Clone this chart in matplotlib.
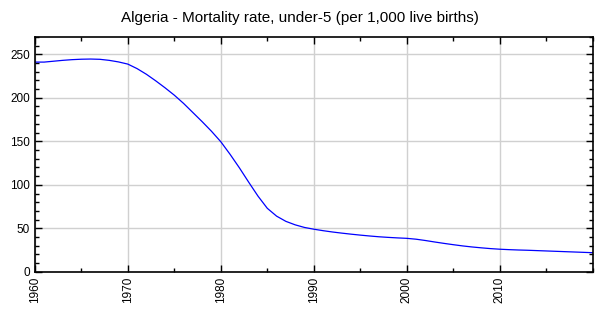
import matplotlib
matplotlib.use("Agg")
import matplotlib.pyplot as plt
from matplotlib.ticker import MultipleLocator

# Under-5 mortality, Algeria (per 1,000 live births)
years = list(range(1960, 2021))
values = [241, 241, 242, 243, 243.8, 244.3, 244.5, 244.2, 243, 241.2,
          238.7, 233.5, 227, 219.5, 211.5, 203, 193.5, 183, 172.5, 161.5,
          149.5, 135, 119.5, 103, 87, 73, 64, 58, 54, 51,
          49, 47.3, 45.8, 44.5, 43.3, 42.2, 41.2, 40.3, 39.6, 39,
          38.5, 37.5, 36, 34.3, 32.7, 31.2, 29.8, 28.6, 27.6, 26.7,
          26, 25.5, 25.1, 24.8, 24.4, 24, 23.6, 23.2, 22.8, 22.4,
          22]
xticks = [1960, 1970, 1980, 1990, 2000, 2010]

plt.rcParams['font.family'] = ['Liberation Sans', 'DejaVu Sans']

fig = plt.figure(figsize=(6, 3.15), dpi=100)
ax = fig.add_axes([0.058, 0.137, 0.93, 0.746])

ax.plot(years, values, color='#0000ff', linewidth=0.9)

ax.set_xlim(1960, 2020)
ax.set_ylim(0, 270)
ax.set_xticks(xticks)
ax.set_xticklabels([str(y) for y in xticks], rotation=90, fontsize=8.5)
ax.xaxis.set_minor_locator(MultipleLocator(5))
ax.yaxis.set_major_locator(MultipleLocator(50))
ax.yaxis.set_minor_locator(MultipleLocator(10))
ax.tick_params(axis='y', labelsize=8.5)

ax.tick_params(which='both', direction='in', top=True, right=True, color='black')
ax.tick_params(which='major', length=5, width=1)
ax.tick_params(which='minor', length=3, width=1)

ax.grid(True, which='major', color='#d0d0d0', linewidth=1)
ax.set_axisbelow(True)
for s in ax.spines.values():
    s.set_linewidth(1.2)
    s.set_color('black')

fig.text(0.5, 0.943, "Algeria - Mortality rate, under-5 (per 1,000 live births)",
         ha='center', va='center', fontsize=11)

fig.savefig("out.png", dpi=100)
